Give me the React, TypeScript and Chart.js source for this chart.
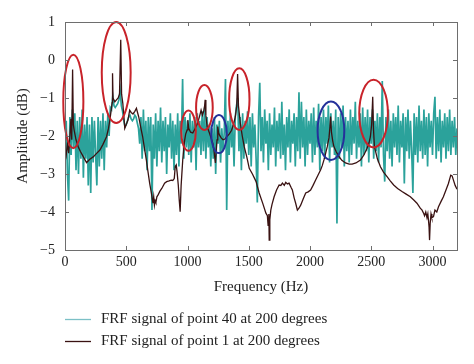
import React, { useEffect, useRef } from 'react';
import { Chart, registerables } from 'chart.js';

Chart.register(...registerables);

const X_TICKS = [0, 500, 1000, 1500, 2000, 2500, 3000];
const Y_TICKS = [-5, -4, -3, -2, -1, 0, 1];
const X_MIN = 0;
const X_MAX = 3200;
const Y_MIN = -5;
const Y_MAX = 1;

const X_TITLE = 'Frequency (Hz)';
const Y_TITLE = 'Amplitude (dB)';
const LEGEND_LABELS = [
  'FRF signal of point 40 at 200 degrees',
  'FRF signal of point 1 at 200 degrees',
];

// FRF of point 40 (teal), sampled every 10 Hz from 0 to 3200 Hz
const TEAL_STEP_HZ = 10;
const TEAL_AMP = [
  -2.1, -1.6, -3.0, -3.7, -1.5, -2.5, -1.3, -2.3, -1.4, -2.9,
  -1.6, -3.0, -1.5, -2.6, -1.3, -3.1, -1.7, -2.6, -1.5, -3.3,
  -1.7, -3.5, -1.5, -2.7, -1.6, -2.5, -3.3, -1.5, -2.8, -1.6,
  -2.6, -1.4, -2.9, -1.6, -2.3, -1.4, -2.0, -1.25, -1.3, -0.95,
  -1.2, -1.25, -1.2, -1.15, -1.05, -0.8, -1.2, -1.35, -1.6, -1.75,
  -1.7, -1.6, -1.5, -1.45, -1.55, -1.6, -1.55, -1.45, -1.5, -1.65,
  -1.8, -2.2, -1.5, -2.6, -1.3, -2.4, -1.6, -2.9, -1.5, -2.4,
  -1.5, -3.95, -1.7, -2.6, -1.4, -2.8, -1.6, -2.4, -1.25, -2.7,
  -1.6, -2.4, -1.5, -3.0, -1.7, -2.3, -1.4, -2.6, -1.6, -2.9,
  -1.7, -2.5, -1.4, -2.8, -1.6, -2.2, -0.5, -2.6, -1.5, -2.3,
  -1.6, -2.5, -1.4, -2.7, -1.6, -2.3, -1.5, -2.9, -1.4, -2.3,
  -1.6, -2.5, -1.35, -2.4, -1.25, -2.6, -1.5, -2.3, -1.7, -2.8,
  -1.8, -2.6, -1.5, -3.0, -1.7, -2.2, -1.6, -2.7, -1.8, -2.4,
  -1.9, -0.5, -3.95, -1.6, -2.5, -1.4, -2.3, -1.7, -2.8, -1.5,
  -1.2, -1.0, -2.4, -1.5, -2.9, -1.4, -2.6, -1.6, -2.2, -1.35,
  -2.5, -1.5, -2.8, -1.4, -2.3, -1.7, -2.6, -3.75, -1.5, -0.6,
  -2.4, -1.5, -2.7, -1.3, -2.2, -1.6, -2.9, -1.4, -2.5, -1.7,
  -2.3, -1.25, -2.8, -1.6, -2.4, -1.4, -2.6, -1.1, -2.5, -1.7,
  -2.9, -1.5, -2.3, -1.3, -2.7, -1.6, -2.2, -1.4, -2.8, -1.5,
  -2.4, -0.85, -2.6, -1.1, -2.3, -1.5, -2.8, -1.3, -2.5, -1.6,
  -2.2, -1.4, -2.7, -1.25, -2.5, -1.6, -2.3, -1.15, -2.9, -1.5,
  -2.4, -1.3, -2.6, -1.5, -2.2, -1.2, -2.7, -1.4, -2.3, -1.6,
  -2.5, -1.3, -4.3, -1.5, -2.6, -1.4, -2.3, -1.2, -2.8, -1.5,
  -2.4, -1.6, -2.7, -1.3, -2.5, -1.5, -2.2, -1.1, -2.6, -1.6,
  -2.3, -1.4, -2.8, -1.25, -2.5, -1.5, -2.4, -1.3, -2.7, -1.5,
  -2.2, -1.3, -2.6, -1.6, -2.4, -1.4, -2.7, -1.5, -2.3, -0.55,
  -2.5, -3.2, -1.5, -2.4, -1.3, -2.6, -1.6, -2.8, -1.4, -2.3,
  -1.5, -2.5, -1.2, -2.7, -1.6, -2.3, -1.4, -3.25, -1.5, -2.4,
  -1.3, -2.6, -1.6, -2.4, -3.5, -1.4, -2.5, -1.5, -2.7, -1.2,
  -2.4, -1.6, -2.6, -1.3, -2.5, -1.5, -2.8, -1.4, -2.3, -1.6,
  -2.5, -1.4, -0.97, -2.6, -1.5, -2.4, -1.3, -2.7, -1.6, -2.3,
  -1.4, -2.6, -1.5, -2.4, -1.3, -2.5, -1.6, -2.3, -1.5, -2.5,
  -1.8,
];

// FRF of point 1 (dark)
const DARK_FREQ = [
  0, 10, 20, 30, 40, 48, 55, 62, 68, 75, 90, 110, 125, 150, 176, 200, 230, 260, 285, 310,
  339, 355, 366, 378, 385, 388, 392, 407, 420, 434, 445, 455, 462, 472, 488, 500, 514, 528, 540, 555,
  570, 583, 602, 620, 634, 650, 664, 678, 691, 705, 712, 718, 724, 730, 736, 742, 750, 760, 775, 790,
  813, 830, 850, 867, 880, 892, 900, 908, 915, 925, 933, 940, 948, 961, 975, 985, 997, 1003, 1010, 1025,
  1043, 1060, 1080, 1098, 1111, 1122, 1132, 1140, 1144, 1150, 1160, 1179, 1195, 1206, 1215, 1222, 1228, 1235, 1241, 1247,
  1253, 1260, 1275, 1290, 1305, 1320, 1340, 1360, 1375, 1390, 1402, 1409, 1416, 1431, 1447, 1463, 1484, 1504, 1530, 1560,
  1585, 1615, 1640, 1652, 1658, 1664, 1667, 1672, 1680, 1690, 1707, 1727, 1748, 1762, 1775, 1790, 1802, 1815, 1829, 1845,
  1856, 1870, 1883, 1897, 1910, 1924, 1945, 1965, 1985, 2005, 2025, 2046, 2067, 2087, 2100, 2114, 2128, 2141, 2155, 2163,
  2168, 2175, 2185, 2195, 2215, 2236, 2260, 2290, 2320, 2344, 2375, 2412, 2440, 2466, 2482, 2493, 2503, 2512, 2518, 2526,
  2550, 2575, 2600, 2629, 2655, 2683, 2715, 2751, 2785, 2819, 2845, 2873, 2900, 2915, 2927, 2935, 2945, 2955, 2962, 2967,
  2972, 2976, 2981, 2988, 2995, 3008, 3020, 3035, 3049, 3070, 3089, 3110, 3130, 3149, 3160, 3171, 3185, 3200,
];
const DARK_AMP = [
  -2.3, -2.5, -2.2, -2.45, -2.0, -1.55, -2.1, -0.25, -1.7, -1.85, -2.1, -2.3, -2.4, -2.55, -2.7, -2.62, -2.55, -2.45, -2.37, -2.22,
  -2.02, -1.8, -1.58, -1.3, -1.12, -0.35, -1.0, -1.1, -1.05, -1.0, -0.9, 0.53, -0.9, -1.14, -1.8, -1.7, -1.58, -1.32, -1.38, -1.42,
  -1.35, -1.27, -1.5, -1.8, -2.02, -2.35, -2.63, -2.95, -3.24, -3.5, -3.65, -3.77, -3.6, -3.82, -3.7, -3.75, -3.6, -3.55, -3.45, -3.38,
  -3.24, -3.2, -3.18, -3.16, -3.17, -3.12, -2.8, -2.76, -2.95, -3.3, -3.7, -3.99, -3.3, -2.63, -2.15, -1.95, -1.84, -1.58, -1.8, -1.9,
  -1.92, -1.82, -1.68, -1.49, -1.32, -1.45, -1.35, -1.2, -1.05, -1.45, -1.75, -1.92, -2.08, -2.19, -2.35, -2.55, -2.71, -2.35, -2.1, -1.75,
  -1.9, -1.97, -2.05, -2.1, -2.08, -2.02, -1.95, -1.85, -1.7, -1.5, -1.2, -0.37, -1.2, -1.66, -2.0, -2.28, -2.55, -2.85, -3.0, -3.2,
  -3.5, -3.78, -4.03, -4.1, -4.35, -4.05, -4.74, -4.2, -3.95, -3.8, -3.6, -3.42, -3.29, -3.3, -3.24, -3.3, -3.22, -3.26, -3.24, -3.35,
  -3.42, -3.62, -3.77, -3.95, -3.9, -3.82, -3.65, -3.5, -3.47, -3.42, -3.3, -3.16, -3.02, -2.89, -2.78, -2.63, -2.45, -2.28, -2.05, -1.75,
  -1.49, -1.9, -2.12, -2.28, -2.42, -2.54, -2.64, -2.71, -2.74, -2.74, -2.71, -2.63, -2.5, -2.32, -2.18, -2.02, -1.7, -0.97, -1.8, -2.28,
  -2.6, -2.81, -2.95, -3.07, -3.18, -3.29, -3.38, -3.46, -3.53, -3.6, -3.68, -3.77, -3.9, -3.95, -4.03, -4.1, -4.0, -4.15, -4.05, -4.21,
  -4.4, -4.74, -4.3, -4.05, -4.15, -4.12, -3.95, -4.0, -3.86, -3.72, -3.6, -3.42, -3.25, -3.03, -3.05, -3.16, -3.3, -3.4,
];

// Highlight ellipses (centre frequency, centre amplitude, half-width in Hz, half-height in dB)
const RED_CX = [68, 418, 1008, 1138, 1423, 2519];
const RED_CY = [-1.09, -0.33, -1.86, -1.25, -1.03, -1.41];
const RED_RX = [82, 118, 60, 68, 83, 117];
const RED_RY = [1.23, 1.33, 0.53, 0.59, 0.81, 0.89];
const BLUE_CX = [1257, 2171];
const BLUE_CY = [-1.95, -1.86];
const BLUE_RX = [64, 109];
const BLUE_RY = [0.5, 0.77];

const TEAL = '#2ba29b';
const TEAL_LEGEND = '#7cc0c6';
const DARK = '#3a1212';
const RED = '#c8232a';
const BLUE = '#25319a';
const FRAME = '#6e6e6e';
const TEXT = '#222222';
const SERIF = "'Liberation Serif', 'Times New Roman', serif";

const fmt = (v: number) => (v < 0 ? '\u2212' + Math.abs(v) : String(v));

const overlayPlugin = {
  id: 'overlay',
  afterDatasetsDraw(chart: any) {
    const ctx = chart.ctx as CanvasRenderingContext2D;
    const { left, right, top, bottom } = chart.chartArea;
    const xs = chart.scales.x;
    const ys = chart.scales.y;

    const drawEllipses = (cx: number[], cy: number[], rx: number[], ry: number[], color: string) => {
      ctx.save();
      ctx.strokeStyle = color;
      ctx.lineWidth = 2;
      for (let i = 0; i < cx.length; i++) {
        const px = xs.getPixelForValue(cx[i]);
        const py = ys.getPixelForValue(cy[i]);
        const prx = Math.abs(xs.getPixelForValue(cx[i] + rx[i]) - px);
        const pry = Math.abs(ys.getPixelForValue(cy[i] + ry[i]) - py);
        ctx.beginPath();
        ctx.ellipse(px, py, prx, pry, 0, 0, Math.PI * 2);
        ctx.stroke();
      }
      ctx.restore();
    };
    drawEllipses(RED_CX, RED_CY, RED_RX, RED_RY, RED);
    drawEllipses(BLUE_CX, BLUE_CY, BLUE_RX, BLUE_RY, BLUE);

    // frame
    ctx.save();
    ctx.strokeStyle = FRAME;
    ctx.lineWidth = 1;
    ctx.strokeRect(Math.round(left) + 0.5, Math.round(top) + 0.5, Math.round(right - left), Math.round(bottom - top));
    // inward ticks on all sides
    const tl = 4;
    ctx.beginPath();
    for (const v of X_TICKS) {
      const px = Math.round(xs.getPixelForValue(v)) + 0.5;
      ctx.moveTo(px, bottom);
      ctx.lineTo(px, bottom - tl);
      ctx.moveTo(px, top);
      ctx.lineTo(px, top + tl);
    }
    for (const v of Y_TICKS) {
      const py = Math.round(ys.getPixelForValue(v)) + 0.5;
      ctx.moveTo(left, py);
      ctx.lineTo(left + tl, py);
      ctx.moveTo(right, py);
      ctx.lineTo(right - tl, py);
    }
    ctx.stroke();
    ctx.restore();

    // legend
    ctx.save();
    const legendColors = [TEAL_LEGEND, DARK];
    const legendY = [319, 341];
    ctx.font = `15px ${SERIF}`;
    ctx.fillStyle = TEXT;
    ctx.textBaseline = 'middle';
    ctx.textAlign = 'left';
    for (let i = 0; i < LEGEND_LABELS.length; i++) {
      ctx.strokeStyle = legendColors[i];
      ctx.lineWidth = 1.3;
      ctx.beginPath();
      ctx.moveTo(65, legendY[i] + 0.5);
      ctx.lineTo(91, legendY[i] + 0.5);
      ctx.stroke();
      ctx.fillText(LEGEND_LABELS[i], 101, legendY[i]);
    }
    ctx.restore();
  },
};

export default function App() {
  const canvasRef = useRef<HTMLCanvasElement | null>(null);

  useEffect(() => {
    const canvas = canvasRef.current;
    if (!canvas) return;
    const tealData = TEAL_AMP.map((v, i) => ({ x: i * TEAL_STEP_HZ, y: v }));
    const darkData = DARK_FREQ.map((f, i) => ({ x: f, y: DARK_AMP[i] }));

    const chart = new Chart(canvas, {
      type: 'line',
      data: {
        datasets: [
          {
            label: LEGEND_LABELS[1],
            data: darkData,
            borderColor: DARK,
            borderWidth: 1.3,
            pointRadius: 0,
            tension: 0,
            fill: false,
          },
          {
            label: LEGEND_LABELS[0],
            data: tealData,
            borderColor: TEAL,
            borderWidth: 1.7,
            pointRadius: 0,
            tension: 0,
            fill: false,
          },
        ],
      },
      options: {
        responsive: false,
        animation: false,
        events: [],
        layout: { padding: { top: 22, right: 17, bottom: 64, left: 0 } },
        plugins: {
          legend: { display: false },
          tooltip: { enabled: false },
        },
        scales: {
          x: {
            type: 'linear',
            min: X_MIN,
            max: X_MAX,
            grid: { display: false, drawTicks: false },
            border: { display: false },
            afterBuildTicks: (scale: any) => {
              scale.ticks = X_TICKS.map((v) => ({ value: v }));
            },
            afterFit: (scale: any) => {
              scale.height = 50;
            },
            ticks: {
              padding: 4,
              color: TEXT,
              font: { family: SERIF, size: 14 },
              maxRotation: 0,
              autoSkip: false,
              callback: (v: any) => fmt(Number(v)),
            },
            title: {
              display: true,
              text: X_TITLE,
              color: TEXT,
              font: { family: SERIF, size: 15 },
              padding: { top: 0, bottom: 4 },
            },
          },
          y: {
            type: 'linear',
            min: Y_MIN,
            max: Y_MAX,
            grid: { display: false, drawTicks: false },
            border: { display: false },
            afterBuildTicks: (scale: any) => {
              scale.ticks = Y_TICKS.map((v) => ({ value: v }));
            },
            afterFit: (scale: any) => {
              scale.width = 65;
            },
            ticks: {
              padding: 10,
              color: TEXT,
              font: { family: SERIF, size: 14 },
              autoSkip: false,
              callback: (v: any) => fmt(Number(v)),
            },
            title: {
              display: true,
              text: Y_TITLE,
              color: TEXT,
              font: { family: SERIF, size: 15 },
              padding: { top: 14, bottom: 0 },
            },
          },
        },
      },
      plugins: [overlayPlugin],
    });
    return () => chart.destroy();
  }, []);

  return (
    <div style={{ position: 'absolute', left: 0, top: 0, width: 474, height: 364, background: '#fff' }}>
      <canvas ref={canvasRef} width={474} height={364} style={{ display: 'block' }} />
    </div>
  );
}
